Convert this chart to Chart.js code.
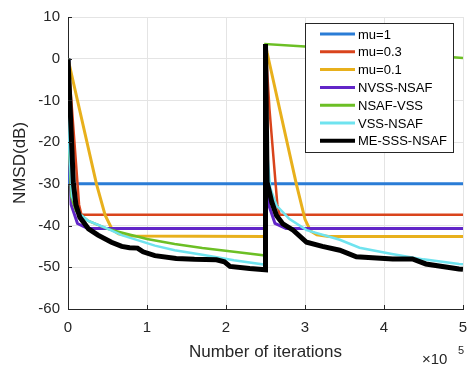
<!DOCTYPE html>
<html>
<head>
<meta charset="utf-8">
<script src="https://cdn.jsdelivr.net/npm/chart.js@4.4.0/dist/chart.umd.min.js"></script>
<style>
    html, body { margin: 0; padding: 0; background: #fff; }
    canvas { display: block; }
</style>
</head>
<body>
<canvas id="chart" width="474" height="369"></canvas>
<script>
// x in units of 1e5 iterations, y in dB
const seriesNames = ["mu=1", "mu=0.3", "mu=0.1", "NVSS-NSAF", "NSAF-VSS", "VSS-NSAF", "ME-SSS-NSAF"];
const seriesColors = ["#2a7cd6", "#d9441c", "#e8b01c", "#6226c8", "#6cbf25", "#6fe3ef", "#000000"];
const seriesWidths = [3, 2.5, 3, 3, 2.5, 2.5, 5];

const xTicks = [0, 1, 2, 3, 4, 5];
const yTicks = [-60, -50, -40, -30, -20, -10, 0, 10];

const mu1 = [[0, 0], [0.012, -30], [2.5, -30], [2.5, 3.5], [2.512, -30], [5, -30]];
const mu03 = [[0, 0], [0.05, -12], [0.14, -35], [0.17, -37.4], [2.5, -37.4],
    [2.5, 3.5], [2.55, -12], [2.65, -35], [2.68, -37.4], [5, -37.4]];
const mu01 = [[0, 0], [0.36, -30], [0.47, -37.5], [0.56, -41], [0.64, -42], [0.78, -42.5], [2.5, -42.6],
    [2.5, 3.5], [2.52, 1.5], [2.89, -30], [3.0, -38.5], [3.07, -41.3], [3.15, -42.2], [3.3, -42.6], [5, -42.6]];
const nvss = [[0, 0], [0.01, -20], [0.04, -35], [0.12, -39.5], [0.25, -40.7], [2.5, -40.7],
    [2.5, 3.5], [2.51, -20], [2.54, -35], [2.62, -39.5], [2.76, -40.7], [5, -40.7]];
const nsafVss = [[0, 0], [0.01, -20], [0.04, -33], [0.1, -36.5], [0.25, -38.8], [0.5, -40.8], [0.7, -41.8],
    [1.0, -43.2], [1.35, -44.4], [1.7, -45.4], [2.1, -46.3], [2.5, -47.2],
    [2.5, 3.5], [3.0, 2.9], [3.5, 2.3], [4.0, 1.6], [4.5, 0.9], [5, 0.2]];
const vssNsaf = [[0, 0], [0.01, -20], [0.05, -33], [0.15, -37.2], [0.25, -38.8], [0.47, -40.5], [0.68, -42.3],
    [1.1, -44.8], [1.35, -45.9], [1.7, -47], [2.1, -48.3], [2.5, -49.4],
    [2.5, 3.5], [2.51, -20], [2.56, -31], [2.64, -35.2], [2.8, -38.4], [3.02, -41.1], [3.44, -43.4],
    [3.69, -45.3], [4.1, -46.8], [4.5, -48.1], [4.95, -49.2], [5, -49.3]];
const meSss = [[0, 0], [0.04, -17.6], [0.067, -29.6], [0.1, -35], [0.15, -38], [0.26, -40.8], [0.38, -42.3],
    [0.55, -44], [0.68, -45], [0.78, -45.3], [0.88, -45.4], [0.95, -46.3], [1.1, -47.2], [1.37, -47.9],
    [1.6, -48.1], [1.88, -48.2], [1.98, -48.7], [2.05, -49.8], [2.3, -50.3], [2.5, -50.6],
    [2.5, 3.5], [2.52, -29.6], [2.58, -34.4], [2.64, -37.6], [2.72, -39.6], [2.85, -41.1], [3.02, -44],
    [3.22, -45], [3.44, -45.9], [3.65, -47.5], [4.11, -48], [4.36, -48], [4.53, -49.2], [4.95, -50.4], [5, -50.5]];

const allSeries = [mu1, mu03, mu01, nvss, nsafVss, vssNsaf, meSss];

const FONT = "'Liberation Sans', Arial, sans-serif";
const AXIS_COLOR = '#262626';

const datasets = allSeries.map((pts, i) => ({
    label: seriesNames[i],
    data: pts,
    borderColor: seriesColors[i],
    backgroundColor: seriesColors[i],
    borderWidth: seriesWidths[i],
    pointRadius: 0,
    tension: 0,
    fill: false,
    order: allSeries.length - i
}));

// legend box inside the plot, MATLAB style
const legendBox = {
    id: 'legendBox',
    afterDraw(chart) {
        const ctx = chart.ctx;
        const x0 = 305, y0 = 23, w = 148, h = 129;
        ctx.save();
        ctx.fillStyle = '#fff';
        ctx.fillRect(x0, y0, w, h);
        ctx.strokeStyle = AXIS_COLOR;
        ctx.lineWidth = 1;
        ctx.strokeRect(x0 + 0.5, y0 + 0.5, w, h);
        ctx.font = '13px ' + FONT;
        ctx.textBaseline = 'middle';
        seriesNames.forEach((name, i) => {
            const y = 34 + i * 17.8;
            ctx.strokeStyle = seriesColors[i];
            ctx.lineWidth = i === 6 ? 4 : 3;
            ctx.beginPath();
            ctx.moveTo(320, y);
            ctx.lineTo(355, y);
            ctx.stroke();
            ctx.fillStyle = '#000';
            ctx.fillText(name, 358, y + 1);
        });
        ctx.restore();
    }
};

// inward tick marks and the x10^5 exponent
const axisExtras = {
    id: 'axisExtras',
    afterDraw(chart) {
        const ctx = chart.ctx;
        const area = chart.chartArea;
        const xs = chart.scales.x, ys = chart.scales.y;
        ctx.save();
        ctx.strokeStyle = AXIS_COLOR;
        ctx.lineWidth = 1;
        ctx.beginPath();
        xTicks.forEach(v => {
            const px = Math.round(xs.getPixelForValue(v)) + 0.5;
            ctx.moveTo(px, area.bottom);
            ctx.lineTo(px, area.bottom - 4);
        });
        yTicks.forEach(v => {
            const py = Math.round(ys.getPixelForValue(v)) + 0.5;
            ctx.moveTo(area.left, py);
            ctx.lineTo(area.left + 4, py);
        });
        ctx.stroke();
        ctx.fillStyle = AXIS_COLOR;
        ctx.textBaseline = 'middle';
        ctx.font = '15px ' + FONT;
        ctx.fillText('\u00d710', 422, 360);
        ctx.font = '11px ' + FONT;
        ctx.fillText('5', 458, 351);
        ctx.restore();
    }
};

new Chart(document.getElementById('chart'), {
    type: 'line',
    data: { datasets: datasets },
    options: {
        responsive: false,
        animation: false,
        layout: { padding: { left: 10, top: 14, right: 11, bottom: 0 } },
        plugins: {
            legend: { display: false },
            tooltip: { enabled: false }
        },
        scales: {
            x: {
                type: 'linear',
                min: 0,
                max: 5,
                afterBuildTicks: scale => { scale.ticks = xTicks.map(v => ({ value: v })); },
                afterFit: scale => {
                    scale.height = 60;
                    scale.paddingRight = 0;
                    scale.paddingLeft = 0;
                },
                ticks: { font: { family: FONT, size: 15 }, color: AXIS_COLOR, padding: 10, maxRotation: 0 },
                grid: { color: '#e4e4e4', drawTicks: false },
                border: { display: true, color: AXIS_COLOR, width: 1 },
                title: {
                    display: true,
                    text: 'Number of iterations',
                    font: { family: FONT, size: 17 },
                    color: AXIS_COLOR,
                    padding: { top: 4, bottom: 6 }
                }
            },
            y: {
                type: 'linear',
                min: -60,
                max: 10,
                afterBuildTicks: scale => { scale.ticks = yTicks.map(v => ({ value: v })); },
                afterFit: scale => { scale.width = 58; },
                ticks: { font: { family: FONT, size: 15 }, color: AXIS_COLOR, padding: 8 },
                grid: { color: '#e4e4e4', drawTicks: false },
                border: { display: true, color: AXIS_COLOR, width: 1 },
                title: {
                    display: true,
                    text: 'NMSD(dB)',
                    font: { family: FONT, size: 17 },
                    color: AXIS_COLOR,
                    padding: { top: 0, bottom: 0 }
                }
            }
        }
    },
    plugins: [legendBox, axisExtras]
});
</script>
</body>
</html>
